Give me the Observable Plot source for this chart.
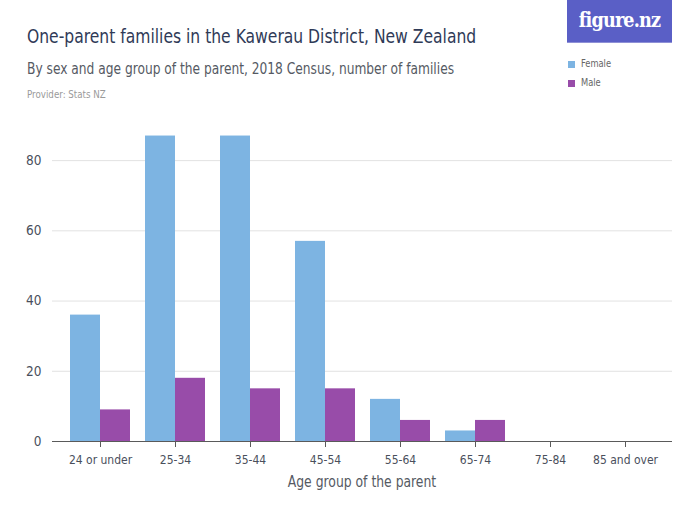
<!DOCTYPE html>
<html><head><meta charset="utf-8">
<script src="https://cdn.jsdelivr.net/npm/d3@7"></script>
<script src="https://cdn.jsdelivr.net/npm/@observablehq/plot@0.6"></script>
<style>
body{margin:0;background:#fff;}
#wrap{position:relative;width:700px;height:525px;overflow:hidden;font-family:"DejaVu Sans Condensed","Liberation Sans Narrow",sans-serif;}
#chart{position:absolute;left:0;top:0;}
.t{position:absolute;white-space:nowrap;transform-origin:0 50%;}
#title{left:27px;top:24px;font-size:20px;color:#2f3a57;transform:scaleX(0.865);}
#sub{left:27px;top:59px;font-size:16px;color:#555a63;transform:scaleX(0.85);}
#prov{left:27px;top:88px;font-size:11px;color:#9a9a9a;transform:scaleX(0.88);}
#xlab{left:0;width:724px;top:472px;font-size:16px;color:#555a63;text-align:center;transform-origin:50% 50%;transform:scaleX(0.86);}
#logo{position:absolute;left:567px;top:0;width:105px;height:42px;background:#5a5fc6;border-bottom:1px solid #8e90d6;}
#logo span{display:block;color:#fff;font-family:"DejaVu Serif","Liberation Serif",serif;font-weight:bold;font-size:21px;text-align:center;line-height:40px;letter-spacing:-1px;transform:scaleX(0.84);}
.leg{position:absolute;left:568px;font-size:10.5px;color:#666;white-space:nowrap;}
.sw{display:inline-block;width:7px;height:7px;margin-right:6px;vertical-align:middle;}
.lt{display:inline-block;transform:scaleX(0.88);transform-origin:0 50%;}
</style></head><body>
<div id="wrap">
<div id="chart"></div>
<div class="t" id="title">One-parent families in the Kawerau District, New Zealand</div>
<div class="t" id="sub">By sex and age group of the parent, 2018 Census, number of families</div>
<div class="t" id="prov">Provider: Stats NZ</div>
<div class="t" id="xlab"></div>
<div id="logo"><span>figure.nz</span></div>
<div id="legend"></div>
</div>
<script>
const ageGroups = ["24 or under","25-34","35-44","45-54","55-64","65-74","75-84","85 and over"];
const female = [36, 87, 87, 57, 12, 3, 0, 0];
const male = [9, 18, 15, 15, 6, 6, 0, 0];
const sexes = ["Female", "Male"];
const sexColors = ["#7db4e2", "#984ca9"];
const yTicks = [0, 20, 40, 60, 80];
const xLabel = "Age group of the parent";

const femaleData = ageGroups.map((a, i) => ({age: a, sex: "Female", value: female[i]}));
const maleData = ageGroups.map((a, i) => ({age: a, sex: "Male", value: male[i]}));

const font = '"DejaVu Sans Condensed","Liberation Sans Narrow",sans-serif';
const chart = Plot.plot({
  width: 700, height: 525,
  marginLeft: 52, marginRight: 28, marginTop: 125, marginBottom: 84,
  style: {fontFamily: font, fontSize: "12px", background: "transparent", color: "#4a4f5c"},
  x: {domain: ageGroups, paddingInner: 0.2, paddingOuter: 0.233},
  y: {domain: [0, 90]},
  color: {domain: sexes, range: sexColors},
  marks: [
    Plot.gridY(yTicks, {stroke: "#e2e2e2", strokeOpacity: 1}),
    Plot.barY(femaleData, {x: "age", y: "value", fill: "sex", insetRight: 30}),
    Plot.barY(maleData, {x: "age", y: "value", fill: "sex", insetLeft: 30}),
    Plot.ruleY([0], {stroke: "#5a5a5a"}),
    Plot.axisY({ticks: yTicks, tickSize: 0, tickPadding: 11, label: null, fontSize: 13.5, color: "#4a4f5c"}),
    Plot.axisX({tickSize: 6, tickPadding: 8, fontSize: 12, color: "#4a4f5c", stroke: "#5a5a5a", label: null})
  ]
});
document.getElementById("chart").append(chart);
document.getElementById("xlab").textContent = xLabel;
const leg = document.getElementById("legend");
sexes.forEach((s, i) => {
  const d = document.createElement("div");
  d.className = "leg";
  d.style.top = (57 + i * 19) + "px";
  d.innerHTML = `<span class="sw" style="background:${sexColors[i]}"></span><span class="lt">${s}</span>`;
  leg.append(d);
});
</script>
</body></html>
